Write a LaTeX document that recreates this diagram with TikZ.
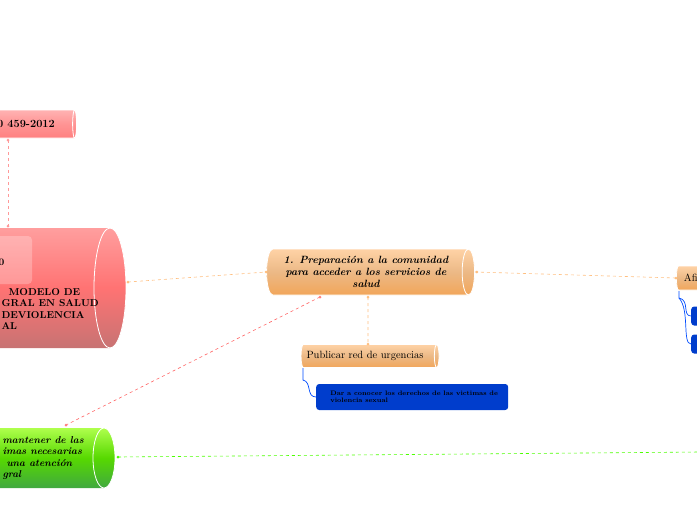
\documentclass[tikz,border=0pt]{standalone}
\usetikzlibrary{shapes.geometric}
\begin{document}
\begin{tikzpicture}[x=1pt,y=-1pt,
 cyl/.style={cylinder,shape border rotate=0,aspect=0.35,draw=white,line width=0.8pt,inner sep=2pt,align=center},
 orc/.style={cyl,top color=orange!35!white,bottom color=orange!70!brown!70,middle color=orange!45!brown!55},
 bluebox/.style={draw=none,fill=blue!70!cyan!80!black,rounded corners=3pt,text=black,font=\fontsize{6.5}{7}\selectfont\bfseries,align=left,inner sep=3pt},
 dsh/.style={dashed,dash pattern=on 3pt off 3pt,line width=0.6pt}]
\useasboundingbox (0,0) rectangle (697,520);
\clip (0,0) rectangle (697,520);
% top pink
\node[cyl,minimum width=28pt,minimum height=110pt,top color=red!30,bottom color=red!50!white,middle color=red!42!white,font=\bfseries\fontsize{11}{12}\selectfont,anchor=east] (law) at (77,124) {\hspace*{8pt}00 459-2012\hspace*{2pt}};
% big red
\path[top color=red!38!white,bottom color=red!60!black!55,middle color=red!55!white]
  (-10,228) -- (110,228) arc[x radius=16,y radius=60,start angle=-90,end angle=90] -- (-10,348) -- cycle;
\draw[white,line width=0.8pt] (110,288) ellipse[x radius=16,y radius=60];
\node[fill=white,fill opacity=0.25,rounded corners=4pt,minimum width=40pt,minimum height=48pt] (inner) at (12,260) {};
\node[anchor=west,font=\bfseries\normalsize] (zero) at (-5,262) {0};
\node[anchor=west,align=left,font=\bfseries\fontsize{10}{11.5}\selectfont] (redtxt) at (-2,309) {\hspace*{7pt}MODELO DE\\GRAL EN SALUD\\DEVIOLENCIA\\AL};
% green
\path[top color=green!45!yellow!70,bottom color=green!55!black!75,middle color=green!60!yellow!85!black]
  (-10,428) -- (104,428) arc[x radius=11,y radius=30,start angle=-90,end angle=90] -- (-10,488) -- cycle;
\draw[white,line width=0.8pt] (104,458) ellipse[x radius=11,y radius=30];
\node[anchor=west,align=left,font=\bfseries\itshape\fontsize{10}{11.5}\selectfont] (grtxt) at (-1,458) {mantener de las\\imas necesarias\\\hspace*{4pt}una atención\\gral};
% orange main
\node[orc,minimum width=46pt,minimum height=208pt,font=\bfseries\itshape\fontsize{10.5}{12}\selectfont] (prep) at (366,272) {1. Preparación a la comunidad\\para acceder a los servicios de\\salud};
% publicar
\node[orc,minimum width=23pt,minimum height=138pt,font=\fontsize{10.5}{11}\selectfont] (pub) at (368,356) {Publicar red de urgencias\hspace*{6pt}};
\node[bluebox,minimum width=192pt,minimum height=26pt,anchor=west] (der) at (316,397) {\hspace*{4pt}Dar a conocer los derechos de las victimas de\\\hspace*{4pt}violencia sexual};
% Afi
\node[orc,minimum width=24pt,minimum height=60pt,font=\fontsize{10.5}{11}\selectfont,anchor=west] (afi) at (676,278) {\hspace*{2pt}Afiliación};
\node[bluebox,minimum width=40pt,minimum height=19pt,anchor=west] (b1) at (691,316) {};
\node[bluebox,minimum width=40pt,minimum height=19pt,anchor=west] (b2) at (691,344) {};
\coordinate (gend) at (700,452);
\coordinate (l1) at (8,140);
\coordinate (l2) at (8,226);
% connectors
\draw[dsh,red!40] (l1) -- (l2);
\fill[red!40] (l1) circle (1.5pt) (l2) circle (1.5pt);
\draw[dsh,orange!50] (128,282) -- (prep.west);
\fill[orange!50] (128,282) circle (1.5pt) (prep.west) circle (1.5pt);
\draw[dsh,orange!50] (prep.east) -- (afi.west);
\fill[orange!50] (prep.east) ++(2,0) circle (1.5pt) (afi.west) circle (1.5pt);
\draw[dsh,orange!50] (368,297) -- (pub.north);
\fill[orange!50] (368,297) circle (1.5pt) (pub.north) circle (1.5pt);
\draw[dsh,red!60] (320,297) -- (66,425);
\fill[red!50] (320,297) circle (1.5pt) (66,425) circle (1.5pt);
\draw[dsh,green!70!yellow] (118,457) -- (gend);
\fill[green!70!yellow] (118,457) circle (1.5pt);
\draw[blue!70!cyan,line width=0.7pt] (303,368) -- (303,380) .. controls (312,382) and (306,397) .. (der.west);
\draw[blue!70!cyan,line width=0.7pt] (679,291) -- (679,298) .. controls (690,300) and (682,316) .. (b1.west);
\draw[blue!70!cyan,line width=0.7pt] (679,298) .. controls (690,310) and (682,344) .. (b2.west);
\end{tikzpicture}
\end{document}
